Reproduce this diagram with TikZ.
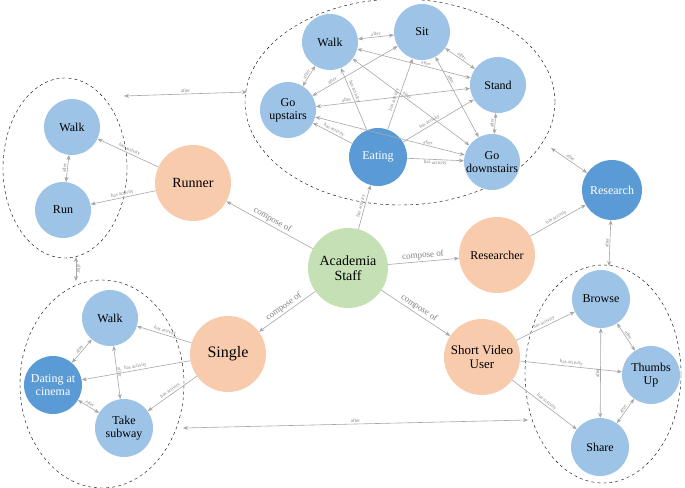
\documentclass[tikz,border=0pt]{standalone}
\usepackage{fontspec}
\setmainfont{Liberation Serif}
\usetikzlibrary{shapes.geometric,arrows.meta}
\definecolor{lb}{HTML}{9DC3E6}
\definecolor{db}{HTML}{5B9BD5}
\definecolor{orn}{HTML}{F8CBAD}
\definecolor{grn}{HTML}{C5E0B4}
\definecolor{eg}{HTML}{A6A6A6}
\begin{document}
\begin{tikzpicture}[x=1pt,y=-1pt,
 act/.style={circle,fill=lb,minimum size=56pt,inner sep=0pt,align=center,font=\fontsize{12}{13}\selectfont},
 dact/.style={act,fill=db,text=white},
 role/.style={circle,fill=orn,minimum size=76pt,inner sep=0pt,align=center,font=\fontsize{14}{15}\selectfont},
 grp/.style={ellipse,draw,dashed,inner sep=0pt},
 e/.style={draw=eg,line width=0.6pt,-{Stealth[length=5pt,width=4pt]}},
 be/.style={e,{Stealth[length=5pt,width=4pt]}-{Stealth[length=5pt,width=4pt]}},
 lab/.style={midway,sloped,above,inner sep=1pt,text=gray,font=\fontsize{5}{5.5}\selectfont},
 clab/.style={midway,sloped,above,inner sep=1.5pt,text=gray,font=\fontsize{9}{10}\selectfont}]
\useasboundingbox (0,0) rectangle (685,487);
% groups
\node[grp,minimum width=310pt,minimum height=206pt] (G1) at (400,102) {};
\node[grp,minimum width=124pt,minimum height=180pt] (G2) at (65,168) {};
\node[grp,minimum width=164pt,minimum height=208pt] (G3) at (102,384) {};
\node[grp,minimum width=156pt,minimum height=218pt] (G4) at (603,374) {};
\coordinate (g1l) at (247,92);
\coordinate (g1r) at (551,148);
\coordinate (g2r) at (124,96);
\coordinate (g2b) at (76,257);
\coordinate (g3t) at (76,281);
\coordinate (g3r) at (183,428);
\coordinate (g4l) at (528,420);
\coordinate (g4t) at (609,266);
% top cluster
\node[act] (tw) at (330,42) {Walk};
\node[act] (ts) at (422,32) {Sit};
\node[act] (tst) at (498,85) {Stand};
\node[act] (tu) at (288,110) {Go\\upstairs};
\node[dact,minimum size=58pt] (te) at (378,157) {Eating};
\node[act] (td) at (492,162) {Go\\downstairs};
% left top
\node[act] (lw) at (72,127) {Walk};
\node[act] (lr) at (63,210) {Run};
% roles
\node[role] (runner) at (193,183) {Runner};
\node[role,fill=grn,minimum size=80pt] (as) at (348,268) {Academia\\Staff};
\node[role,font=\fontsize{12}{13}\selectfont] (res) at (497,255) {Researcher};
\node[dact,minimum size=60pt] (rs) at (612,190) {Research};
\node[role,font=\fontsize{16}{17}\selectfont] (sg) at (228,354) {Single};
\node[role,font=\fontsize{13}{14}\selectfont] (svu) at (482,357) {Short Video\\User};
% bottom left
\node[act] (bw) at (110,318) {Walk};
\node[dact,minimum size=58pt] (bd) at (53,385) {Dating at\\cinema};
\node[act,minimum size=58pt] (bt) at (124,428) {Take\\subway};
% bottom right
\node[act,minimum size=58pt] (rb) at (601,299) {Browse};
\node[act,minimum size=58pt] (rt) at (651,375) {Thumbs\\Up};
\node[act,minimum size=58pt] (rsh) at (600,447) {Share};
% compose of
\draw[e] (as) -- node[clab]{compose of} (runner);
\draw[e] (as) -- node[clab]{compose of} (res);
\draw[e] (as) -- node[clab]{compose of} (sg);
\draw[e] (as) -- node[clab]{compose of} (svu);
\draw[e] (as) -- node[lab]{has activity} (te);
% top cluster
\draw[be] (tw) -- node[lab]{after} (ts);
\draw[be] (tw) -- node[lab]{after} (tu);
\draw[be] (ts) -- node[lab]{after} (tst);
\draw[be] (tst) -- node[lab]{after} (td);
\draw[be] (tw) -- node[lab,pos=0.6]{after} (tst);
\draw[be] (tw) -- node[lab,pos=0.45]{after} (td);
\draw[be] (ts) -- node[lab,pos=0.75]{after} (tu);
\draw[be] (tst) -- node[lab,pos=0.8]{after} (tu);
\draw[be] (tu) -- node[lab,pos=0.75]{after} (td);
\draw[be] (ts) -- node[lab,pos=0.3]{after} (td);
\draw[e] (te) -- node[lab,pos=0.6]{has activity} (tw);
\draw[e] (te) -- node[lab,pos=0.4]{has activity} (ts);
\draw[e] (te) -- node[lab,pos=0.4]{has activity} (tst);
\draw[e] (te) -- node[lab]{has activity} (tu);
\draw[e] (te) -- node[lab,below]{has activity} (td);
% runner
\draw[e] (runner) -- node[lab]{has activity} (lw);
\draw[e] (runner) -- node[lab]{has activity} (lr);
\draw[be] (lw) -- node[lab]{after} (lr);
% researcher
\draw[e] (res) -- node[lab]{has activity} (rs);
\draw[be] (rs) -- node[lab]{after} (g1r);
\draw[be] (rs) -- node[lab]{after} (g4t);
% group links
\draw[be] (g2r) -- node[lab]{after} (g1l);
\draw[be] (g2b) -- node[lab]{after} (g3t);
\draw[be] (g3r) -- node[lab]{after} (g4l);
% single
\draw[e] (sg) -- node[lab]{has activity} (bw);
\draw[e] (sg) -- node[lab]{has activity} (bd);
\draw[e] (sg) -- node[lab]{has activity} (bt);
\draw[be] (bw) -- node[lab]{after} (bd);
\draw[be] (bw) -- node[lab]{after} (bt);
\draw[be] (bd) -- node[lab]{after} (bt);
% svu
\draw[e] (svu) -- node[lab]{has activity} (rb);
\draw[e] (svu) -- node[lab]{has activity} (rt);
\draw[e] (svu) -- node[lab]{has activity} (rsh);
\draw[be] (rb) -- node[lab]{after} (rt);
\draw[be] (rb) -- node[lab]{after} (rsh);
\draw[be] (rt) -- node[lab]{after} (rsh);
\end{tikzpicture}
\end{document}
